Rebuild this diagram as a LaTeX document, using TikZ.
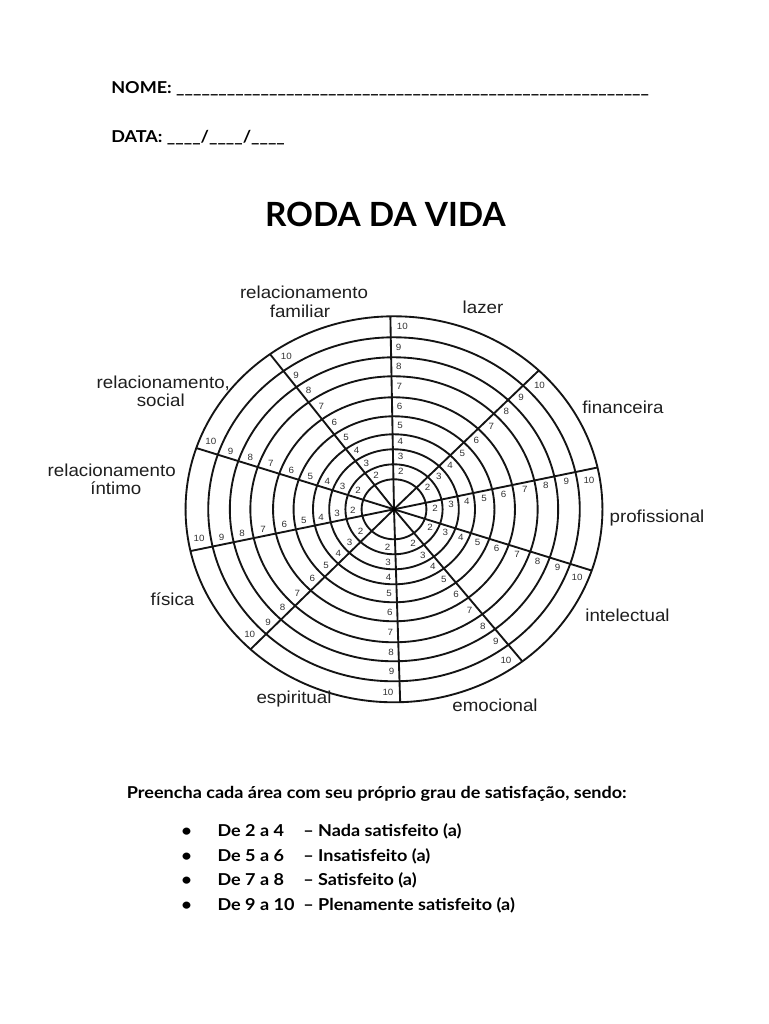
\documentclass[tikz,border=0pt]{standalone}
\usepackage{fontspec}
\setmainfont{Lato}
\newfontfamily\bodyfont[FakeStretch=1.1]{Lato}
\newfontfamily\wheelfont[FakeStretch=1.08]{Liberation Sans}
\begin{document}
\begin{tikzpicture}[x=0.75pt,y=0.75pt,
  hdr/.style={font=\bodyfont\fontsize{12.3}{14}\selectfont\bfseries, anchor=base west, inner sep=0pt},
  titlestyle/.style={font=\fontsize{25}{28}\selectfont\bfseries, anchor=base, inner sep=0pt},
  instr/.style={font=\bodyfont\fontsize{12.3}{14}\selectfont\bfseries, anchor=base west, inner sep=0pt},
  bul/.style={font=\bodyfont\fontsize{12.3}{14}\selectfont\bfseries, anchor=base, inner sep=0pt},
  ring/.style={line width=1.4pt, draw=black!92},
  wl/.style={font=\wheelfont\fontsize{13}{15}\selectfont, anchor=base, inner sep=0pt, text=black!88},
  num/.style={font=\wheelfont\fontsize{6.8}{7}\selectfont, inner sep=0pt, text=black!80}]
\useasboundingbox (0,0) rectangle (768,1024);
\fill[white] (0,0) rectangle (768,1024);

% header
\node[hdr] (nome) at (111,930) {\makebox[403pt][l]{NOME: \xleaders\hbox{\_}\hfill}};
\node[hdr] (data) at (111,881) {DATA: \_\_\_\_/\_\_\_\_/\_\_\_\_};
\node[titlestyle] (title) at (385.3,797.3) {RODA DA VIDA};

% wheel
\begin{scope}[shift={(394,514.7)}, xscale=1.08]
  \coordinate (hub) at (0,0);
  \foreach \r [count=\j] in {30,45,60,75,93,112,133,152,172,193}
    \draw[ring] (hub) circle (\r);
  \foreach \a [count=\i] in {91,46,12.5,-18.5,-52,-88.3,226.5,192.5,161.5,126.5}{
    \draw[ring] (hub) -- (\a:193) coordinate (s\i);
    \foreach \k/\rm in {2/37.5,3/52.5,4/67.5,5/84,6/102.5,7/122.5,8/142.5,9/162,10/182.5}{
      \pgfmathsetmacro\dd{ifthenelse(\k==10,11,7)}
      \path (\a:\rm) ++(\a-90:\dd) node[num] (n\i-\k) {\k};
    }
  }
  \fill (hub) circle (2.2);
\end{scope}

% wheel labels
\node[wl] (fam1) at (304,725.5) {relacionamento};
\node[wl] (fam2) at (300,706) {familiar};
\node[wl] (laz) at (483,710) {lazer};
\node[wl] (fin) at (623,610) {financeira};
\node[wl] (pro) at (657,501.3) {profissional};
\node[wl] (int) at (627.5,402.3) {intelectual};
\node[wl] (emo) at (495,312.3) {emocional};
\node[wl] (esp) at (294,320.7) {espiritual};
\node[wl] (fis) at (172.5,418) {física};
\node[wl] (inti1) at (111.7,547) {relacionamento};
\node[wl] (inti2) at (115.8,529) {íntimo};
\node[wl] (soc1) at (163.3,635) {relacionamento,};
\node[wl] (soc2) at (160.8,617) {social};

% instructions
\node[instr] (pre) at (126.7,225) {Preencha cada área com seu próprio grau de satisfação, sendo:};
\foreach \y/\a/\b [count=\i] in {187.3/De 2 a 4/Nada satisfeito (a),162.3/De 5 a 6/Insatisfeito (a),138/De 7 a 8/Satisfeito (a),113.3/De 9 a 10/Plenamente satisfeito (a)}{
  \node[bul] (b\i) at (186.7,\y) {\textbullet};
  \node[instr] (r\i) at (217.3,\y) {\a};
  \node[instr] (d\i) at (303,\y) {– \b};
}
\end{tikzpicture}
\end{document}
